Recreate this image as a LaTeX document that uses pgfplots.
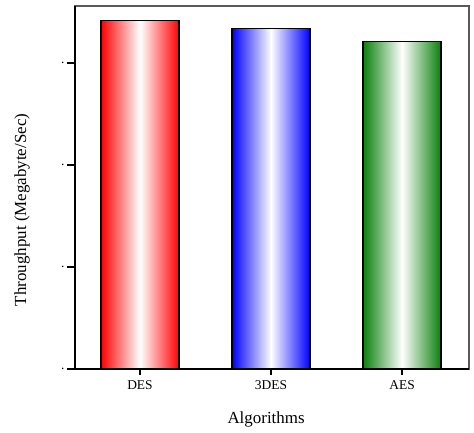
\documentclass[border=0pt]{standalone}
\usepackage{fontspec}
\setmainfont{Liberation Serif}
\usepackage{pgfplots}
\pgfplotsset{compat=1.18}
\definecolor{desred}{RGB}{255,0,0}
\definecolor{desblue}{RGB}{0,0,255}
\definecolor{aesgreen}{RGB}{10,128,10}
\begin{document}
\begin{tikzpicture}
\begin{axis}[
  scale only axis,
  width=394bp, height=363bp,
  xmin=-0.496, xmax=2.511,
  ymin=0, ymax=3.56,
  clip=false,
  axis line style={gray!70!black, line width=1.2bp},
  xtick={0,1,2}, xticklabels={DES,3DES,AES},
  ytick={0,1,2,3}, yticklabels={.,.,.,.},
  xtick pos=bottom, ytick pos=left,
  tick align=outside,
  major tick length=7bp,
  tick style={draw=none},
  ticklabel style={font=\fontsize{13.5}{16}\selectfont},
  xticklabel style={yshift=-1bp},
  xlabel={Algorithms},
  ylabel={Throughput (Megabyte/Sec)},
  label style={font=\fontsize{17}{20}\selectfont},
  xlabel style={at={(axis description cs:0.485,-0.1377)}, anchor=center},
  ylabel style={at={(axis description cs:-0.1345,0.438)}, anchor=center},
]
\addplot[ybar, bar width=0.595, bar shift=0pt, draw=black, line width=1.3bp, left color=desred, right color=desred, middle color=white] coordinates {(0,3.42)};
\addplot[ybar, bar width=0.595, bar shift=0pt, draw=black, line width=1.3bp, left color=desblue, right color=desblue, middle color=white] coordinates {(1,3.34)};
\addplot[ybar, bar width=0.595, bar shift=0pt, draw=black, line width=1.3bp, left color=aesgreen, right color=aesgreen, middle color=white] coordinates {(2,3.21)};
\draw[black, line width=1.4bp] (rel axis cs:0,1) -- (rel axis cs:0,0) -- (rel axis cs:1,0);
\coordinate (ty0) at (axis cs:-0.496,0);
\coordinate (ty1) at (axis cs:-0.496,1);
\coordinate (ty2) at (axis cs:-0.496,2);
\coordinate (ty3) at (axis cs:-0.496,3);
\coordinate (tx0) at (axis cs:0,0);
\coordinate (tx1) at (axis cs:1,0);
\coordinate (tx2) at (axis cs:2,0);
\end{axis}
\foreach \c in {ty0,ty1,ty2,ty3}
  \draw[black, line width=2.4bp] (\c) -- ++(-8bp,0bp);
\foreach \c in {tx0,tx1,tx2}
  \draw[black, line width=2.4bp] (\c) -- ++(0bp,-6bp);
\pgfresetboundingbox
\path[use as bounding box] ([shift={(-75bp,-64bp)}]current axis.south west) rectangle ([shift={(5bp,6bp)}]current axis.north east);
\end{tikzpicture}
\end{document}
